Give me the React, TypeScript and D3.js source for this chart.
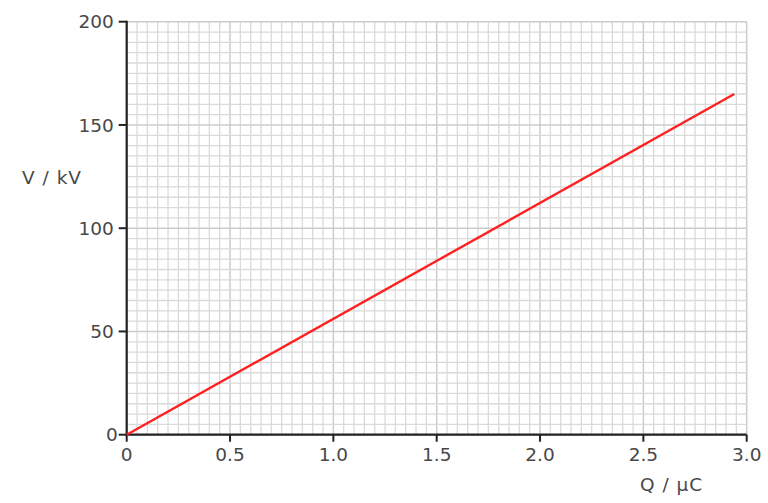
import React from 'react';
import * as d3 from 'd3';

// values
const xTicks = [0, 0.5, 1.0, 1.5, 2.0, 2.5, 3.0];
const xTickLabels = ['0', '0.5', '1.0', '1.5', '2.0', '2.5', '3.0'];
const yTicks = [0, 50, 100, 150, 200];
const yTickLabels = ['0', '50', '100', '150', '200'];
const lineQ = [0, 2.94];
const lineV = [0, 165];

const width = 768;
const height = 503;
const margin = { top: 21.7, right: 21.3, bottom: 68.3, left: 126.7 };
const font = '"DejaVu Sans", sans-serif';
const fontSize = 18.5;

export default function App() {
  const x = d3.scaleLinear().domain([0, 3]).range([margin.left, width - margin.right]);
  const y = d3.scaleLinear().domain([0, 200]).range([height - margin.bottom, margin.top]);

  const minorX = d3.range(0, 61).map(i => i * 0.05);
  const minorY = d3.range(0, 41).map(i => i * 5);

  const points: [number, number][] = lineQ.map((q, i) => [q, lineV[i]]);
  const line = d3.line<[number, number]>().x(d => x(d[0])).y(d => y(d[1]));

  const [x0, x1] = x.range();
  const [y0, y1] = y.range();

  return (
    <svg width={width} height={height} style={{ position: 'absolute', left: 0, top: 0, background: '#fff' }}>
      {/* graph paper */}
      <g>
        {minorX.map((v, i) => (
          <line key={'gx' + i} x1={x(v)} x2={x(v)} y1={y0} y2={y1}
            stroke={i % 10 === 0 ? '#cccccc' : '#dadada'} strokeWidth={i % 10 === 0 ? 1.5 : 1.3} />
        ))}
        {minorY.map((v, i) => (
          <line key={'gy' + i} x1={x0} x2={x1} y1={y(v)} y2={y(v)}
            stroke={i % 10 === 0 ? '#cccccc' : '#dadada'} strokeWidth={i % 10 === 0 ? 1.5 : 1.3} />
        ))}
      </g>

      {/* axes */}
      <line x1={x0} x2={x0} y1={y0 + 1} y2={y1 - 1} stroke="#222" strokeWidth={2.2} />
      <line x1={x0 - 1} x2={x1} y1={y0} y2={y0} stroke="#222" strokeWidth={2.2} />

      {yTicks.map((v, i) => (
        <g key={'yt' + v}>
          <line x1={x0 - 8} x2={x0} y1={y(v)} y2={y(v)} stroke="#222" strokeWidth={2} />
          <text x={v === 0 ? x0 - 9 : x0 - 13} y={y(v)} dy="0.36em" textAnchor="end"
            fontFamily={font} fontSize={fontSize} fill="#484848">{yTickLabels[i]}</text>
        </g>
      ))}
      {xTicks.map((v, i) => (
        <g key={'xt' + v}>
          <line x1={x(v)} x2={x(v)} y1={y0} y2={y0 + 7} stroke="#222" strokeWidth={2} />
          <text x={x(v)} y={y0 + 26} textAnchor="middle"
            fontFamily={font} fontSize={fontSize} fill="#484848">{xTickLabels[i]}</text>
        </g>
      ))}

      <text x={22} y={184} fontFamily={font} fontSize={fontSize} letterSpacing={1} fill="#484848">V / kV</text>
      <text x={640} y={491} fontFamily={font} fontSize={fontSize} letterSpacing={1} fill="#484848">Q / μC</text>

      {/* data line */}
      <path d={line(points) ?? ''} fill="none" stroke="#ff2020" strokeWidth={2.4} />
    </svg>
  );
}
